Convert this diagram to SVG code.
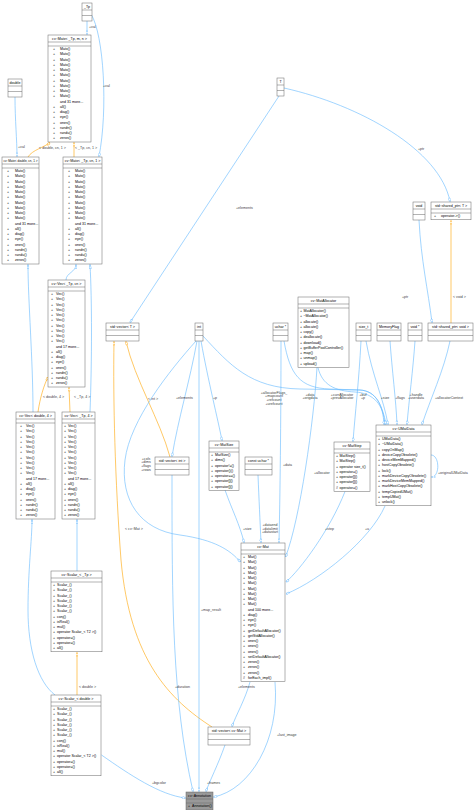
<svg xmlns="http://www.w3.org/2000/svg" width="474" height="810" viewBox="0 0 474 810">
<defs>
<style>
.b{fill:#fff;stroke:#666;stroke-width:0.5}
.hl{fill:#999;stroke:#666;stroke-width:0.5}
.s{stroke:#666;stroke-width:0.5}
text{font-family:"Liberation Sans",Arial,Helvetica,sans-serif;font-size:3.6px;fill:#000}
.h{text-anchor:middle}
.l{fill:#404040}
.lc{fill:#404040;text-anchor:middle}
.u{fill:none;stroke:#63B8FF;stroke-width:0.6;marker-end:url(#d)}
.i{fill:none;stroke:#63B8FF;stroke-width:0.6;marker-end:url(#n)}
.t{fill:none;stroke:#FFA500;stroke-width:0.6;marker-end:url(#o)}
</style>
<marker id="d" markerUnits="userSpaceOnUse" markerWidth="4.4" markerHeight="2.8" viewBox="-0.5 -0.5 11 7" refX="10" refY="3" orient="auto"><path d="M0 3 5 0 10 3 5 6Z" fill="#fff" stroke="#63B8FF" stroke-width="1.2"/></marker>
<marker id="n" markerUnits="userSpaceOnUse" markerWidth="4.4" markerHeight="2.8" viewBox="-0.5 -0.5 11 7" refX="10" refY="3" orient="auto"><path d="M0 0 10 3 0 6Z" fill="#fff" stroke="#63B8FF" stroke-width="1.2"/></marker>
<marker id="o" markerUnits="userSpaceOnUse" markerWidth="4.4" markerHeight="2.8" viewBox="-0.5 -0.5 11 7" refX="10" refY="3" orient="auto"><path d="M0 3 5 0 10 3 5 6Z" fill="#fff" stroke="#FFA500" stroke-width="1.2"/></marker>
</defs>
<rect width="474" height="810" fill="#fff"/>

<g id="edges">
<path class="u" d="M87 21 L87 34.5"/><text class="l" x="89" y="28">+val</text>
<path class="u" d="M91 14 C104 35,108 110,99 156.5"/><text class="l" x="103" y="87">+val</text>
<path class="u" d="M15 97 C15 120,17 140,17 156.5"/><text class="l" x="18" y="148">+val</text>
<path class="t" d="M28 157 C32 150,45 147,50 142.5"/><text class="lc" x="52.5" y="148.5">&lt; double, cn, 1 &gt;</text>
<path class="t" d="M74 157 L74 142.5"/><text class="l" x="75" y="148.5">&lt; _Tp, cn, 1 &gt;</text>
<path class="i" d="M66 280 C66 273,76 272,76 264.5"/>
<path class="i" d="M33 412 C33 360,28 300,28 264.5"/>
<path class="i" d="M90 412 C92 360,92 300,90 264.5"/>
<path class="t" d="M38 412 C40 398,44 385,48 377"/><text class="l" x="43" y="398">&lt; double, 4 &gt;</text>
<path class="t" d="M70 412 L69 387.5"/><text class="l" x="74" y="398">&lt; _Tp, 4 &gt;</text>
<path class="i" d="M55 695 C38 682,28 650,28 610 C28 570,32 540,32 519.5"/>
<path class="i" d="M77 571 L77 519.5"/>
<path class="t" d="M77 695 L77 652.5"/><text class="l" x="79" y="688">&lt; double &gt;</text>
<path class="u" d="M279 96 L130 322.5"/><text class="l" x="236" y="209">+elements</text>
<path class="u" d="M284 88 C360 105,440 150,450 201.5"/><text class="l" x="418" y="150">+ptr</text>
<path class="u" d="M419 220 C421 260,428 290,432 322.5"/><text class="l" x="402" y="298">+ptr</text>
<path class="t" d="M451 323 L451 220.5"/><text class="l" x="453" y="298">&lt; void &gt;</text>
<path class="t" d="M170 457 C160 420,135 380,126 341.5"/><text class="l" x="148" y="400">&lt; int &gt;</text>
<path class="t" d="M212 727 C170 700,130 660,121 560 C115 480,113 400,114 341.5"/><text class="l" x="125" y="530">&lt; cv::Mat &gt;</text>
<path class="u" d="M201 341 C208 380,218 420,222 440.5"/><text class="l" x="213" y="399">+p</text>
<path class="u" d="M197 341 C190 380,178 420,172 456.5"/><text class="l" x="176" y="399">+elements</text>
<path class="u" d="M196 341 C170 370,130 420,125 460 C120 500,140 530,180 535 C215 540,230 550,240.5 562"/><text class="lc" x="146" y="459.5">+cols<tspan x="146" dy="3.7">+dims</tspan><tspan x="146" dy="3.7">+flags</tspan><tspan x="146" dy="3.7">+rows</tspan></text>
<path class="u" d="M199 341 L199 791.5"/><text class="l" x="201" y="611">+map_result</text>
<path class="u" d="M203 336 C230 365,250 388,300 389 L360 390 C376 391,383 405,385 424.5"/><text class="lc" x="274" y="393.5">+allocatorFlags_<tspan x="274" dy="3.7">+mapcount</tspan><tspan x="274" dy="3.7">+refcount</tspan><tspan x="274" dy="3.7">+urefcount</tspan></text>
<path class="u" d="M281 341 C281 420,280 500,279 542.5"/><text class="l" x="283" y="466">+data</text>
<path class="u" d="M284 341 C290 375,300 388,330 389 L360 390 C376 391,383 405,384 424.5"/><text class="lc" x="310" y="395.5">+data<tspan x="310" dy="3.7">+origdata</tspan></text>
<path class="u" d="M318 367.5 C322 385,335 391,355 392 C374 393,383 405,386 424.5"/><text class="lc" x="342" y="395.5">+currAllocator<tspan x="342" dy="3.7">+prevAllocator</tspan></text>
<path class="u" d="M317 367.5 C314 420,300 520,285.5 557"/><text class="l" x="314" y="474">+allocator</text>
<path class="u" d="M361 341 C359 380,355 415,353 441.5"/><text class="lc" x="363" y="395.5">+buf<tspan x="363" dy="3.7">+p</tspan></text>
<path class="u" d="M366 341 C372 375,384 400,388 424.5"/><text class="lc" x="385" y="399">+size</text>
<path class="u" d="M390 341 C392 370,396 400,397 424.5"/><text class="lc" x="400" y="399">+flags</text>
<path class="u" d="M415 341 C413 370,409 400,407 424.5"/><text class="lc" x="416" y="395.5">+handle<tspan x="416" dy="3.7">+userdata</tspan></text>
<path class="u" d="M450 341 C444 370,430 400,422 424.5"/><text class="lc" x="449" y="399">+allocatorContext</text>
<path class="u" d="M431 455 C440 455,440 477,431.5 477"/><text class="l" x="438" y="474">+originalUMatData</text>
<path class="u" d="M225 490 C232 510,240 525,244 542.5"/><text class="l" x="243" y="530">+size</text>
<path class="u" d="M258 475 C259 500,260 520,261 542.5"/><text class="lc" x="270" y="526">+dataend<tspan x="270" dy="3.7">+datalimit</tspan><tspan x="270" dy="3.7">+datastart</tspan></text>
<path class="u" d="M345 491.5 C330 530,300 570,286 582"/><text class="l" x="325" y="530">+step</text>
<path class="u" d="M385 506 C370 540,320 580,286 594"/><text class="l" x="365" y="530">+u</text>
<path class="u" d="M172 475 C172 600,172 700,193 791.5"/><text class="l" x="175" y="688">+duration</text>
<path class="u" d="M250 682 C245 700,236 715,232 726.5"/><text class="l" x="238" y="688">+elements</text>
<path class="u" d="M275 682 C280 740,250 790,213.5 797"/><text class="l" x="277" y="736">+last_image</text>
<path class="u" d="M225 745 C218 765,210 780,206 791.5"/><text class="l" x="207" y="784">+frames</text>
<path class="u" d="M101.5 755 C130 775,160 795,185.5 798"/><text class="l" x="152" y="784">+bgcolor</text>
</g>

<g id="node_tp"><rect class="b" x="82" y="3" width="10" height="18"/><line class="s" x1="82" y1="10" x2="92" y2="10"/><line class="s" x1="82" y1="15.5" x2="92" y2="15.5"/><text class="h" x="87" y="8.1">_Tp</text></g>

<g id="node_matx_tp_m_n"><rect class="b" x="48" y="35" width="43" height="107"/><line class="s" x1="48" y1="42" x2="91" y2="42"/><line class="s" x1="48" y1="46" x2="91" y2="46"/><text class="h" x="69.5" y="40.1">cv::Matx&lt; _Tp, m, n &gt;</text>
<text x="53" y="50.1">+<tspan x="53" dy="5.25">+</tspan><tspan x="53" dy="5.25">+</tspan><tspan x="53" dy="5.25">+</tspan><tspan x="53" dy="5.25">+</tspan><tspan x="53" dy="5.25">+</tspan><tspan x="53" dy="5.25">+</tspan><tspan x="53" dy="5.25">+</tspan><tspan x="53" dy="5.25">+</tspan><tspan x="53" dy="5.25">+</tspan><tspan x="53" dy="10.5">+</tspan><tspan x="53" dy="5.25">+</tspan><tspan x="53" dy="5.25">+</tspan><tspan x="53" dy="5.25">+</tspan><tspan x="53" dy="5.25">+</tspan><tspan x="53" dy="5.25">+</tspan><tspan x="53" dy="5.25">+</tspan></text>
<text x="60" y="50.1">Matx()<tspan x="60" dy="5.25">Matx()</tspan><tspan x="60" dy="5.25">Matx()</tspan><tspan x="60" dy="5.25">Matx()</tspan><tspan x="60" dy="5.25">Matx()</tspan><tspan x="60" dy="5.25">Matx()</tspan><tspan x="60" dy="5.25">Matx()</tspan><tspan x="60" dy="5.25">Matx()</tspan><tspan x="60" dy="5.25">Matx()</tspan><tspan x="60" dy="5.25">Matx()</tspan><tspan x="60" dy="5.25">and 31 more...</tspan><tspan x="60" dy="5.25">all()</tspan><tspan x="60" dy="5.25">diag()</tspan><tspan x="60" dy="5.25">eye()</tspan><tspan x="60" dy="5.25">ones()</tspan><tspan x="60" dy="5.25">randn()</tspan><tspan x="60" dy="5.25">randu()</tspan><tspan x="60" dy="5.25">zeros()</tspan></text></g>

<g id="node_double"><rect class="b" x="8" y="79" width="14" height="18"/><line class="s" x1="8" y1="86" x2="22" y2="86"/><line class="s" x1="8" y1="91.5" x2="22" y2="91.5"/><text class="h" x="15" y="84.1">double</text></g>

<g id="node_matx_double_cn_1"><rect class="b" x="2" y="157" width="37" height="107"/><line class="s" x1="2" y1="164" x2="39" y2="164"/><line class="s" x1="2" y1="168" x2="39" y2="168"/><text class="h" x="20.5" y="162.1" textLength="34" lengthAdjust="spacingAndGlyphs">cv::Matx&lt; double, cn, 1 &gt;</text>
<text x="7" y="172.1">+<tspan x="7" dy="5.25">+</tspan><tspan x="7" dy="5.25">+</tspan><tspan x="7" dy="5.25">+</tspan><tspan x="7" dy="5.25">+</tspan><tspan x="7" dy="5.25">+</tspan><tspan x="7" dy="5.25">+</tspan><tspan x="7" dy="5.25">+</tspan><tspan x="7" dy="5.25">+</tspan><tspan x="7" dy="5.25">+</tspan><tspan x="7" dy="10.5">+</tspan><tspan x="7" dy="5.25">+</tspan><tspan x="7" dy="5.25">+</tspan><tspan x="7" dy="5.25">+</tspan><tspan x="7" dy="5.25">+</tspan><tspan x="7" dy="5.25">+</tspan><tspan x="7" dy="5.25">+</tspan></text>
<text x="15" y="172.1">Matx()<tspan x="15" dy="5.25">Matx()</tspan><tspan x="15" dy="5.25">Matx()</tspan><tspan x="15" dy="5.25">Matx()</tspan><tspan x="15" dy="5.25">Matx()</tspan><tspan x="15" dy="5.25">Matx()</tspan><tspan x="15" dy="5.25">Matx()</tspan><tspan x="15" dy="5.25">Matx()</tspan><tspan x="15" dy="5.25">Matx()</tspan><tspan x="15" dy="5.25">Matx()</tspan><tspan x="15" dy="5.25">and 31 more...</tspan><tspan x="15" dy="5.25">all()</tspan><tspan x="15" dy="5.25">diag()</tspan><tspan x="15" dy="5.25">eye()</tspan><tspan x="15" dy="5.25">ones()</tspan><tspan x="15" dy="5.25">randn()</tspan><tspan x="15" dy="5.25">randu()</tspan><tspan x="15" dy="5.25">zeros()</tspan></text></g>

<g id="node_matx_tp_cn_1"><rect class="b" x="63" y="157" width="39" height="107"/><line class="s" x1="63" y1="164" x2="102" y2="164"/><line class="s" x1="63" y1="168" x2="102" y2="168"/><text class="h" x="82.5" y="162.1">cv::Matx&lt; _Tp, cn, 1 &gt;</text>
<text x="68" y="172.1">+<tspan x="68" dy="5.25">+</tspan><tspan x="68" dy="5.25">+</tspan><tspan x="68" dy="5.25">+</tspan><tspan x="68" dy="5.25">+</tspan><tspan x="68" dy="5.25">+</tspan><tspan x="68" dy="5.25">+</tspan><tspan x="68" dy="5.25">+</tspan><tspan x="68" dy="5.25">+</tspan><tspan x="68" dy="5.25">+</tspan><tspan x="68" dy="10.5">+</tspan><tspan x="68" dy="5.25">+</tspan><tspan x="68" dy="5.25">+</tspan><tspan x="68" dy="5.25">+</tspan><tspan x="68" dy="5.25">+</tspan><tspan x="68" dy="5.25">+</tspan><tspan x="68" dy="5.25">+</tspan></text>
<text x="75" y="172.1">Matx()<tspan x="75" dy="5.25">Matx()</tspan><tspan x="75" dy="5.25">Matx()</tspan><tspan x="75" dy="5.25">Matx()</tspan><tspan x="75" dy="5.25">Matx()</tspan><tspan x="75" dy="5.25">Matx()</tspan><tspan x="75" dy="5.25">Matx()</tspan><tspan x="75" dy="5.25">Matx()</tspan><tspan x="75" dy="5.25">Matx()</tspan><tspan x="75" dy="5.25">Matx()</tspan><tspan x="75" dy="5.25">and 31 more...</tspan><tspan x="75" dy="5.25">all()</tspan><tspan x="75" dy="5.25">diag()</tspan><tspan x="75" dy="5.25">eye()</tspan><tspan x="75" dy="5.25">ones()</tspan><tspan x="75" dy="5.25">randn()</tspan><tspan x="75" dy="5.25">randu()</tspan><tspan x="75" dy="5.25">zeros()</tspan></text></g>

<g id="node_vec_tp_cn"><rect class="b" x="48" y="280" width="37" height="107"/><line class="s" x1="48" y1="287" x2="85" y2="287"/><line class="s" x1="48" y1="291" x2="85" y2="291"/><text class="h" x="66.5" y="285.1">cv::Vec&lt; _Tp, cn &gt;</text>
<text x="51" y="295.1">+<tspan x="51" dy="5.25">+</tspan><tspan x="51" dy="5.25">+</tspan><tspan x="51" dy="5.25">+</tspan><tspan x="51" dy="5.25">+</tspan><tspan x="51" dy="5.25">+</tspan><tspan x="51" dy="5.25">+</tspan><tspan x="51" dy="5.25">+</tspan><tspan x="51" dy="5.25">+</tspan><tspan x="51" dy="5.25">+</tspan><tspan x="51" dy="10.5">+</tspan><tspan x="51" dy="5.25">+</tspan><tspan x="51" dy="5.25">+</tspan><tspan x="51" dy="5.25">+</tspan><tspan x="51" dy="5.25">+</tspan><tspan x="51" dy="5.25">+</tspan><tspan x="51" dy="5.25">+</tspan></text>
<text x="56" y="295.1">Vec()<tspan x="56" dy="5.25">Vec()</tspan><tspan x="56" dy="5.25">Vec()</tspan><tspan x="56" dy="5.25">Vec()</tspan><tspan x="56" dy="5.25">Vec()</tspan><tspan x="56" dy="5.25">Vec()</tspan><tspan x="56" dy="5.25">Vec()</tspan><tspan x="56" dy="5.25">Vec()</tspan><tspan x="56" dy="5.25">Vec()</tspan><tspan x="56" dy="5.25">Vec()</tspan><tspan x="56" dy="5.25">and 17 more...</tspan><tspan x="56" dy="5.25">all()</tspan><tspan x="56" dy="5.25">diag()</tspan><tspan x="56" dy="5.25">eye()</tspan><tspan x="56" dy="5.25">ones()</tspan><tspan x="56" dy="5.25">randn()</tspan><tspan x="56" dy="5.25">randu()</tspan><tspan x="56" dy="5.25">zeros()</tspan></text></g>

<g id="node_vec_double_4"><rect class="b" x="16" y="412" width="39" height="107"/><line class="s" x1="16" y1="419" x2="55" y2="419"/><line class="s" x1="16" y1="423" x2="55" y2="423"/><text class="h" x="35.5" y="417.1">cv::Vec&lt; double, 4 &gt;</text>
<text x="20" y="427.1">+<tspan x="20" dy="5.25">+</tspan><tspan x="20" dy="5.25">+</tspan><tspan x="20" dy="5.25">+</tspan><tspan x="20" dy="5.25">+</tspan><tspan x="20" dy="5.25">+</tspan><tspan x="20" dy="5.25">+</tspan><tspan x="20" dy="5.25">+</tspan><tspan x="20" dy="5.25">+</tspan><tspan x="20" dy="5.25">+</tspan><tspan x="20" dy="10.5">+</tspan><tspan x="20" dy="5.25">+</tspan><tspan x="20" dy="5.25">+</tspan><tspan x="20" dy="5.25">+</tspan><tspan x="20" dy="5.25">+</tspan><tspan x="20" dy="5.25">+</tspan><tspan x="20" dy="5.25">+</tspan></text>
<text x="26" y="427.1">Vec()<tspan x="26" dy="5.25">Vec()</tspan><tspan x="26" dy="5.25">Vec()</tspan><tspan x="26" dy="5.25">Vec()</tspan><tspan x="26" dy="5.25">Vec()</tspan><tspan x="26" dy="5.25">Vec()</tspan><tspan x="26" dy="5.25">Vec()</tspan><tspan x="26" dy="5.25">Vec()</tspan><tspan x="26" dy="5.25">Vec()</tspan><tspan x="26" dy="5.25">Vec()</tspan><tspan x="26" dy="5.25">and 17 more...</tspan><tspan x="26" dy="5.25">all()</tspan><tspan x="26" dy="5.25">diag()</tspan><tspan x="26" dy="5.25">eye()</tspan><tspan x="26" dy="5.25">ones()</tspan><tspan x="26" dy="5.25">randn()</tspan><tspan x="26" dy="5.25">randu()</tspan><tspan x="26" dy="5.25">zeros()</tspan></text></g>

<g id="node_vec_tp_4"><rect class="b" x="62" y="412" width="33" height="107"/><line class="s" x1="62" y1="419" x2="95" y2="419"/><line class="s" x1="62" y1="423" x2="95" y2="423"/><text class="h" x="78.5" y="417.1">cv::Vec&lt; _Tp, 4 &gt;</text>
<text x="64" y="427.1">+<tspan x="64" dy="5.25">+</tspan><tspan x="64" dy="5.25">+</tspan><tspan x="64" dy="5.25">+</tspan><tspan x="64" dy="5.25">+</tspan><tspan x="64" dy="5.25">+</tspan><tspan x="64" dy="5.25">+</tspan><tspan x="64" dy="5.25">+</tspan><tspan x="64" dy="5.25">+</tspan><tspan x="64" dy="5.25">+</tspan><tspan x="64" dy="10.5">+</tspan><tspan x="64" dy="5.25">+</tspan><tspan x="64" dy="5.25">+</tspan><tspan x="64" dy="5.25">+</tspan><tspan x="64" dy="5.25">+</tspan><tspan x="64" dy="5.25">+</tspan><tspan x="64" dy="5.25">+</tspan></text>
<text x="68" y="427.1">Vec()<tspan x="68" dy="5.25">Vec()</tspan><tspan x="68" dy="5.25">Vec()</tspan><tspan x="68" dy="5.25">Vec()</tspan><tspan x="68" dy="5.25">Vec()</tspan><tspan x="68" dy="5.25">Vec()</tspan><tspan x="68" dy="5.25">Vec()</tspan><tspan x="68" dy="5.25">Vec()</tspan><tspan x="68" dy="5.25">Vec()</tspan><tspan x="68" dy="5.25">Vec()</tspan><tspan x="68" dy="5.25">and 17 more...</tspan><tspan x="68" dy="5.25">all()</tspan><tspan x="68" dy="5.25">diag()</tspan><tspan x="68" dy="5.25">eye()</tspan><tspan x="68" dy="5.25">ones()</tspan><tspan x="68" dy="5.25">randn()</tspan><tspan x="68" dy="5.25">randu()</tspan><tspan x="68" dy="5.25">zeros()</tspan></text></g>

<g id="node_scalar_tp"><rect class="b" x="51" y="571" width="51" height="80.75"/><line class="s" x1="51" y1="578" x2="102" y2="578"/><line class="s" x1="51" y1="582" x2="102" y2="582"/><text class="h" x="76.5" y="576.1">cv::Scalar_&lt; _Tp &gt;</text>
<text x="53" y="586.1">+<tspan x="53" dy="5.25">+</tspan><tspan x="53" dy="5.25">+</tspan><tspan x="53" dy="5.25">+</tspan><tspan x="53" dy="5.25">+</tspan><tspan x="53" dy="5.25">+</tspan><tspan x="53" dy="5.25">+</tspan><tspan x="53" dy="5.25">+</tspan><tspan x="53" dy="5.25">+</tspan><tspan x="53" dy="5.25">+</tspan><tspan x="53" dy="5.25">+</tspan><tspan x="53" dy="5.25">+</tspan><tspan x="53" dy="5.25">+</tspan></text>
<text x="57" y="586.1">Scalar_()<tspan x="57" dy="5.25">Scalar_()</tspan><tspan x="57" dy="5.25">Scalar_()</tspan><tspan x="57" dy="5.25">Scalar_()</tspan><tspan x="57" dy="5.25">Scalar_()</tspan><tspan x="57" dy="5.25">Scalar_()</tspan><tspan x="57" dy="5.25">conj()</tspan><tspan x="57" dy="5.25">isReal()</tspan><tspan x="57" dy="5.25">mul()</tspan><tspan x="57" dy="5.25">operator Scalar_&lt; T2 &gt;()</tspan><tspan x="57" dy="5.25">operator=()</tspan><tspan x="57" dy="5.25">operator=()</tspan><tspan x="57" dy="5.25">all()</tspan></text></g>

<g id="node_scalar_double"><rect class="b" x="51" y="695" width="50" height="80.75"/><line class="s" x1="51" y1="702" x2="101" y2="702"/><line class="s" x1="51" y1="706" x2="101" y2="706"/><text class="h" x="76" y="700.1">cv::Scalar_&lt; double &gt;</text>
<text x="53" y="710.1">+<tspan x="53" dy="5.25">+</tspan><tspan x="53" dy="5.25">+</tspan><tspan x="53" dy="5.25">+</tspan><tspan x="53" dy="5.25">+</tspan><tspan x="53" dy="5.25">+</tspan><tspan x="53" dy="5.25">+</tspan><tspan x="53" dy="5.25">+</tspan><tspan x="53" dy="5.25">+</tspan><tspan x="53" dy="5.25">+</tspan><tspan x="53" dy="5.25">+</tspan><tspan x="53" dy="5.25">+</tspan><tspan x="53" dy="5.25">+</tspan></text>
<text x="57" y="710.1">Scalar_()<tspan x="57" dy="5.25">Scalar_()</tspan><tspan x="57" dy="5.25">Scalar_()</tspan><tspan x="57" dy="5.25">Scalar_()</tspan><tspan x="57" dy="5.25">Scalar_()</tspan><tspan x="57" dy="5.25">Scalar_()</tspan><tspan x="57" dy="5.25">conj()</tspan><tspan x="57" dy="5.25">isReal()</tspan><tspan x="57" dy="5.25">mul()</tspan><tspan x="57" dy="5.25">operator Scalar_&lt; T2 &gt;()</tspan><tspan x="57" dy="5.25">operator=()</tspan><tspan x="57" dy="5.25">operator=()</tspan><tspan x="57" dy="5.25">all()</tspan></text></g>

<g id="node_annotation"><rect class="hl" x="186" y="792" width="27" height="17.75"/><line class="s" x1="186" y1="799" x2="213" y2="799"/><line class="s" x1="186" y1="803" x2="213" y2="803"/><text class="h" x="199.5" y="797.1">cv::Annotation</text><text x="188" y="807.1">+</text><text x="192" y="807.1">Annotation()</text></g>

<g id="node_vector_t"><rect class="b" x="106" y="323" width="33" height="18"/><line class="s" x1="106" y1="330" x2="139" y2="330"/><line class="s" x1="106" y1="335.5" x2="139" y2="335.5"/><text class="h" x="122.5" y="328.1">std::vector&lt; T &gt;</text></g>

<g id="node_t"><rect class="b" x="277" y="78" width="7" height="18"/><line class="s" x1="277" y1="85" x2="284" y2="85"/><line class="s" x1="277" y1="90.5" x2="284" y2="90.5"/><text class="h" x="280.5" y="83.1">T</text></g>

<g id="node_int"><rect class="b" x="195" y="323" width="8" height="18"/><line class="s" x1="195" y1="330" x2="203" y2="330"/><line class="s" x1="195" y1="335.5" x2="203" y2="335.5"/><text class="h" x="199" y="328.1">int</text></g>

<g id="node_vector_int"><rect class="b" x="155" y="457" width="34" height="18"/><line class="s" x1="155" y1="464" x2="189" y2="464"/><line class="s" x1="155" y1="469.5" x2="189" y2="469.5"/><text class="h" x="172" y="462.1">std::vector&lt; int &gt;</text></g>

<g id="node_matsize"><rect class="b" x="209" y="441" width="30" height="49.25"/><line class="s" x1="209" y1="448" x2="239" y2="448"/><line class="s" x1="209" y1="452" x2="239" y2="452"/><text class="h" x="224" y="446.1">cv::MatSize</text>
<text x="211" y="456.1">+<tspan x="211" dy="5.25">+</tspan><tspan x="211" dy="5.25">+</tspan><tspan x="211" dy="5.25">+</tspan><tspan x="211" dy="5.25">+</tspan><tspan x="211" dy="5.25">+</tspan><tspan x="211" dy="5.25">+</tspan></text>
<text x="215" y="456.1">MatSize()<tspan x="215" dy="5.25">dims()</tspan><tspan x="215" dy="5.25">operator!=()</tspan><tspan x="215" dy="5.25">operator()()</tspan><tspan x="215" dy="5.25">operator==()</tspan><tspan x="215" dy="5.25">operator[]()</tspan><tspan x="215" dy="5.25">operator[]()</tspan></text></g>

<g id="node_const_uchar_ptr"><rect class="b" x="245" y="457" width="27" height="18"/><line class="s" x1="245" y1="464" x2="272" y2="464"/><line class="s" x1="245" y1="469.5" x2="272" y2="469.5"/><text class="h" x="258.5" y="462.1">const uchar *</text></g>

<g id="node_uchar_ptr"><rect class="b" x="273" y="323" width="15" height="18"/><line class="s" x1="273" y1="330" x2="288" y2="330"/><line class="s" x1="273" y1="335.5" x2="288" y2="335.5"/><text class="h" x="280.5" y="328.1">uchar *</text></g>

<g id="node_matallocator"><rect class="b" x="298" y="297" width="51" height="70.25"/><line class="s" x1="298" y1="304" x2="349" y2="304"/><line class="s" x1="298" y1="308" x2="349" y2="308"/><text class="h" x="323.5" y="302.1">cv::MatAllocator</text>
<text x="300" y="312.1">+<tspan x="300" dy="5.25">+</tspan><tspan x="300" dy="5.25">+</tspan><tspan x="300" dy="5.25">+</tspan><tspan x="300" dy="5.25">+</tspan><tspan x="300" dy="5.25">+</tspan><tspan x="300" dy="5.25">+</tspan><tspan x="300" dy="5.25">+</tspan><tspan x="300" dy="5.25">+</tspan><tspan x="300" dy="5.25">+</tspan><tspan x="300" dy="5.25">+</tspan></text>
<text x="303.5" y="312.1">MatAllocator()<tspan x="303.5" dy="5.25">~MatAllocator()</tspan><tspan x="303.5" dy="5.25">allocate()</tspan><tspan x="303.5" dy="5.25">allocate()</tspan><tspan x="303.5" dy="5.25">copy()</tspan><tspan x="303.5" dy="5.25">deallocate()</tspan><tspan x="303.5" dy="5.25">download()</tspan><tspan x="303.5" dy="5.25">getBufferPoolController()</tspan><tspan x="303.5" dy="5.25">map()</tspan><tspan x="303.5" dy="5.25">unmap()</tspan><tspan x="303.5" dy="5.25">upload()</tspan></text></g>

<g id="node_size_t"><rect class="b" x="356" y="323" width="15" height="18"/><line class="s" x1="356" y1="330" x2="371" y2="330"/><line class="s" x1="356" y1="335.5" x2="371" y2="335.5"/><text class="h" x="363.5" y="328.1">size_t</text></g>

<g id="node_memoryflag"><rect class="b" x="377" y="323" width="24" height="18"/><line class="s" x1="377" y1="330" x2="401" y2="330"/><line class="s" x1="377" y1="335.5" x2="401" y2="335.5"/><text class="h" x="389" y="328.1">MemoryFlag</text></g>

<g id="node_void_ptr"><rect class="b" x="408" y="323" width="14" height="18"/><line class="s" x1="408" y1="330" x2="422" y2="330"/><line class="s" x1="408" y1="335.5" x2="422" y2="335.5"/><text class="h" x="415" y="328.1">void *</text></g>

<g id="node_shared_ptr_void"><rect class="b" x="428" y="323" width="45" height="18"/><line class="s" x1="428" y1="330" x2="473" y2="330"/><line class="s" x1="428" y1="335.5" x2="473" y2="335.5"/><text class="h" x="450.5" y="328.1">std::shared_ptr&lt; void &gt;</text></g>

<g id="node_void"><rect class="b" x="413" y="202" width="12" height="18"/><line class="s" x1="413" y1="209" x2="425" y2="209"/><line class="s" x1="413" y1="214.5" x2="425" y2="214.5"/><text class="h" x="419" y="207.1">void</text></g>

<g id="node_shared_ptr_t"><rect class="b" x="431" y="202" width="40" height="17.75"/><line class="s" x1="431" y1="209" x2="471" y2="209"/><line class="s" x1="431" y1="213" x2="471" y2="213"/><text class="h" x="451" y="207.1">std::shared_ptr&lt; T &gt;</text><text x="434" y="217.1">+</text><text x="441" y="217.1">operator-&gt;()</text></g>

<g id="node_umatdata"><rect class="b" x="376" y="425" width="55" height="80.75"/><line class="s" x1="376" y1="432" x2="431" y2="432"/><line class="s" x1="376" y1="436" x2="431" y2="436"/><text class="h" x="403.5" y="430.1">cv::UMatData</text>
<text x="378" y="440.1">+<tspan x="378" dy="5.25">+</tspan><tspan x="378" dy="5.25">+</tspan><tspan x="378" dy="5.25">+</tspan><tspan x="378" dy="5.25">+</tspan><tspan x="378" dy="5.25">+</tspan><tspan x="378" dy="5.25">+</tspan><tspan x="378" dy="5.25">+</tspan><tspan x="378" dy="5.25">+</tspan><tspan x="378" dy="5.25">+</tspan><tspan x="378" dy="5.25">+</tspan><tspan x="378" dy="5.25">+</tspan><tspan x="378" dy="5.25">+</tspan></text>
<text x="382" y="440.1">UMatData()<tspan x="382" dy="5.25">~UMatData()</tspan><tspan x="382" dy="5.25">copyOnMap()</tspan><tspan x="382" dy="5.25">deviceCopyObsolete()</tspan><tspan x="382" dy="5.25">deviceMemMapped()</tspan><tspan x="382" dy="5.25">hostCopyObsolete()</tspan><tspan x="382" dy="5.25">lock()</tspan><tspan x="382" dy="5.25">markDeviceCopyObsolete()</tspan><tspan x="382" dy="5.25">markDeviceMemMapped()</tspan><tspan x="382" dy="5.25">markHostCopyObsolete()</tspan><tspan x="382" dy="5.25">tempCopiedUMat()</tspan><tspan x="382" dy="5.25">tempUMat()</tspan><tspan x="382" dy="5.25">unlock()</tspan></text></g>

<g id="node_matstep"><rect class="b" x="334" y="442" width="36" height="49.25"/><line class="s" x1="334" y1="449" x2="370" y2="449"/><line class="s" x1="334" y1="453" x2="370" y2="453"/><text class="h" x="352" y="447.1">cv::MatStep</text>
<text x="336" y="457.1">+<tspan x="336" dy="5.25">+</tspan><tspan x="336" dy="5.25">+</tspan><tspan x="336" dy="5.25">+</tspan><tspan x="336" dy="5.25">+</tspan><tspan x="336" dy="5.25">+</tspan><tspan x="336" dy="5.25">#</tspan></text>
<text x="339.5" y="457.1">MatStep()<tspan x="339.5" dy="5.25">MatStep()</tspan><tspan x="339.5" dy="5.25">operator size_t()</tspan><tspan x="339.5" dy="5.25">operator=()</tspan><tspan x="339.5" dy="5.25">operator[]()</tspan><tspan x="339.5" dy="5.25">operator[]()</tspan><tspan x="339.5" dy="5.25">operator=()</tspan></text></g>

<g id="node_mat"><rect class="b" x="241" y="543" width="44" height="138.5"/><line class="s" x1="241" y1="550" x2="285" y2="550"/><line class="s" x1="241" y1="554" x2="285" y2="554"/><text class="h" x="263" y="548.1">cv::Mat</text>
<text x="243" y="558.1">+<tspan x="243" dy="5.25">+</tspan><tspan x="243" dy="5.25">+</tspan><tspan x="243" dy="5.25">+</tspan><tspan x="243" dy="5.25">+</tspan><tspan x="243" dy="5.25">+</tspan><tspan x="243" dy="5.25">+</tspan><tspan x="243" dy="5.25">+</tspan><tspan x="243" dy="5.25">+</tspan><tspan x="243" dy="5.25">+</tspan><tspan x="243" dy="10.5">+</tspan><tspan x="243" dy="5.25">+</tspan><tspan x="243" dy="5.25">+</tspan><tspan x="243" dy="5.25">+</tspan><tspan x="243" dy="5.25">+</tspan><tspan x="243" dy="5.25">+</tspan><tspan x="243" dy="5.25">+</tspan><tspan x="243" dy="5.25">+</tspan><tspan x="243" dy="5.25">+</tspan><tspan x="243" dy="5.25">+</tspan><tspan x="243" dy="5.25">+</tspan><tspan x="243" dy="5.25">+</tspan><tspan x="243" dy="5.25">#</tspan></text>
<text x="248" y="558.1">Mat()<tspan x="248" dy="5.25">Mat()</tspan><tspan x="248" dy="5.25">Mat()</tspan><tspan x="248" dy="5.25">Mat()</tspan><tspan x="248" dy="5.25">Mat()</tspan><tspan x="248" dy="5.25">Mat()</tspan><tspan x="248" dy="5.25">Mat()</tspan><tspan x="248" dy="5.25">Mat()</tspan><tspan x="248" dy="5.25">Mat()</tspan><tspan x="248" dy="5.25">Mat()</tspan><tspan x="248" dy="5.25">and 100 more...</tspan><tspan x="248" dy="5.25">diag()</tspan><tspan x="248" dy="5.25">eye()</tspan><tspan x="248" dy="5.25">eye()</tspan><tspan x="248" dy="5.25">getDefaultAllocator()</tspan><tspan x="248" dy="5.25">getStdAllocator()</tspan><tspan x="248" dy="5.25">ones()</tspan><tspan x="248" dy="5.25">ones()</tspan><tspan x="248" dy="5.25">ones()</tspan><tspan x="248" dy="5.25">setDefaultAllocator()</tspan><tspan x="248" dy="5.25">zeros()</tspan><tspan x="248" dy="5.25">zeros()</tspan><tspan x="248" dy="5.25">zeros()</tspan><tspan x="248" dy="5.25">forEach_impl()</tspan></text></g>

<g id="node_vector_mat"><rect class="b" x="208" y="727" width="42" height="18"/><line class="s" x1="208" y1="734" x2="250" y2="734"/><line class="s" x1="208" y1="739.5" x2="250" y2="739.5"/><text class="h" x="229" y="732.1">std::vector&lt; cv::Mat &gt;</text></g>
</svg>
